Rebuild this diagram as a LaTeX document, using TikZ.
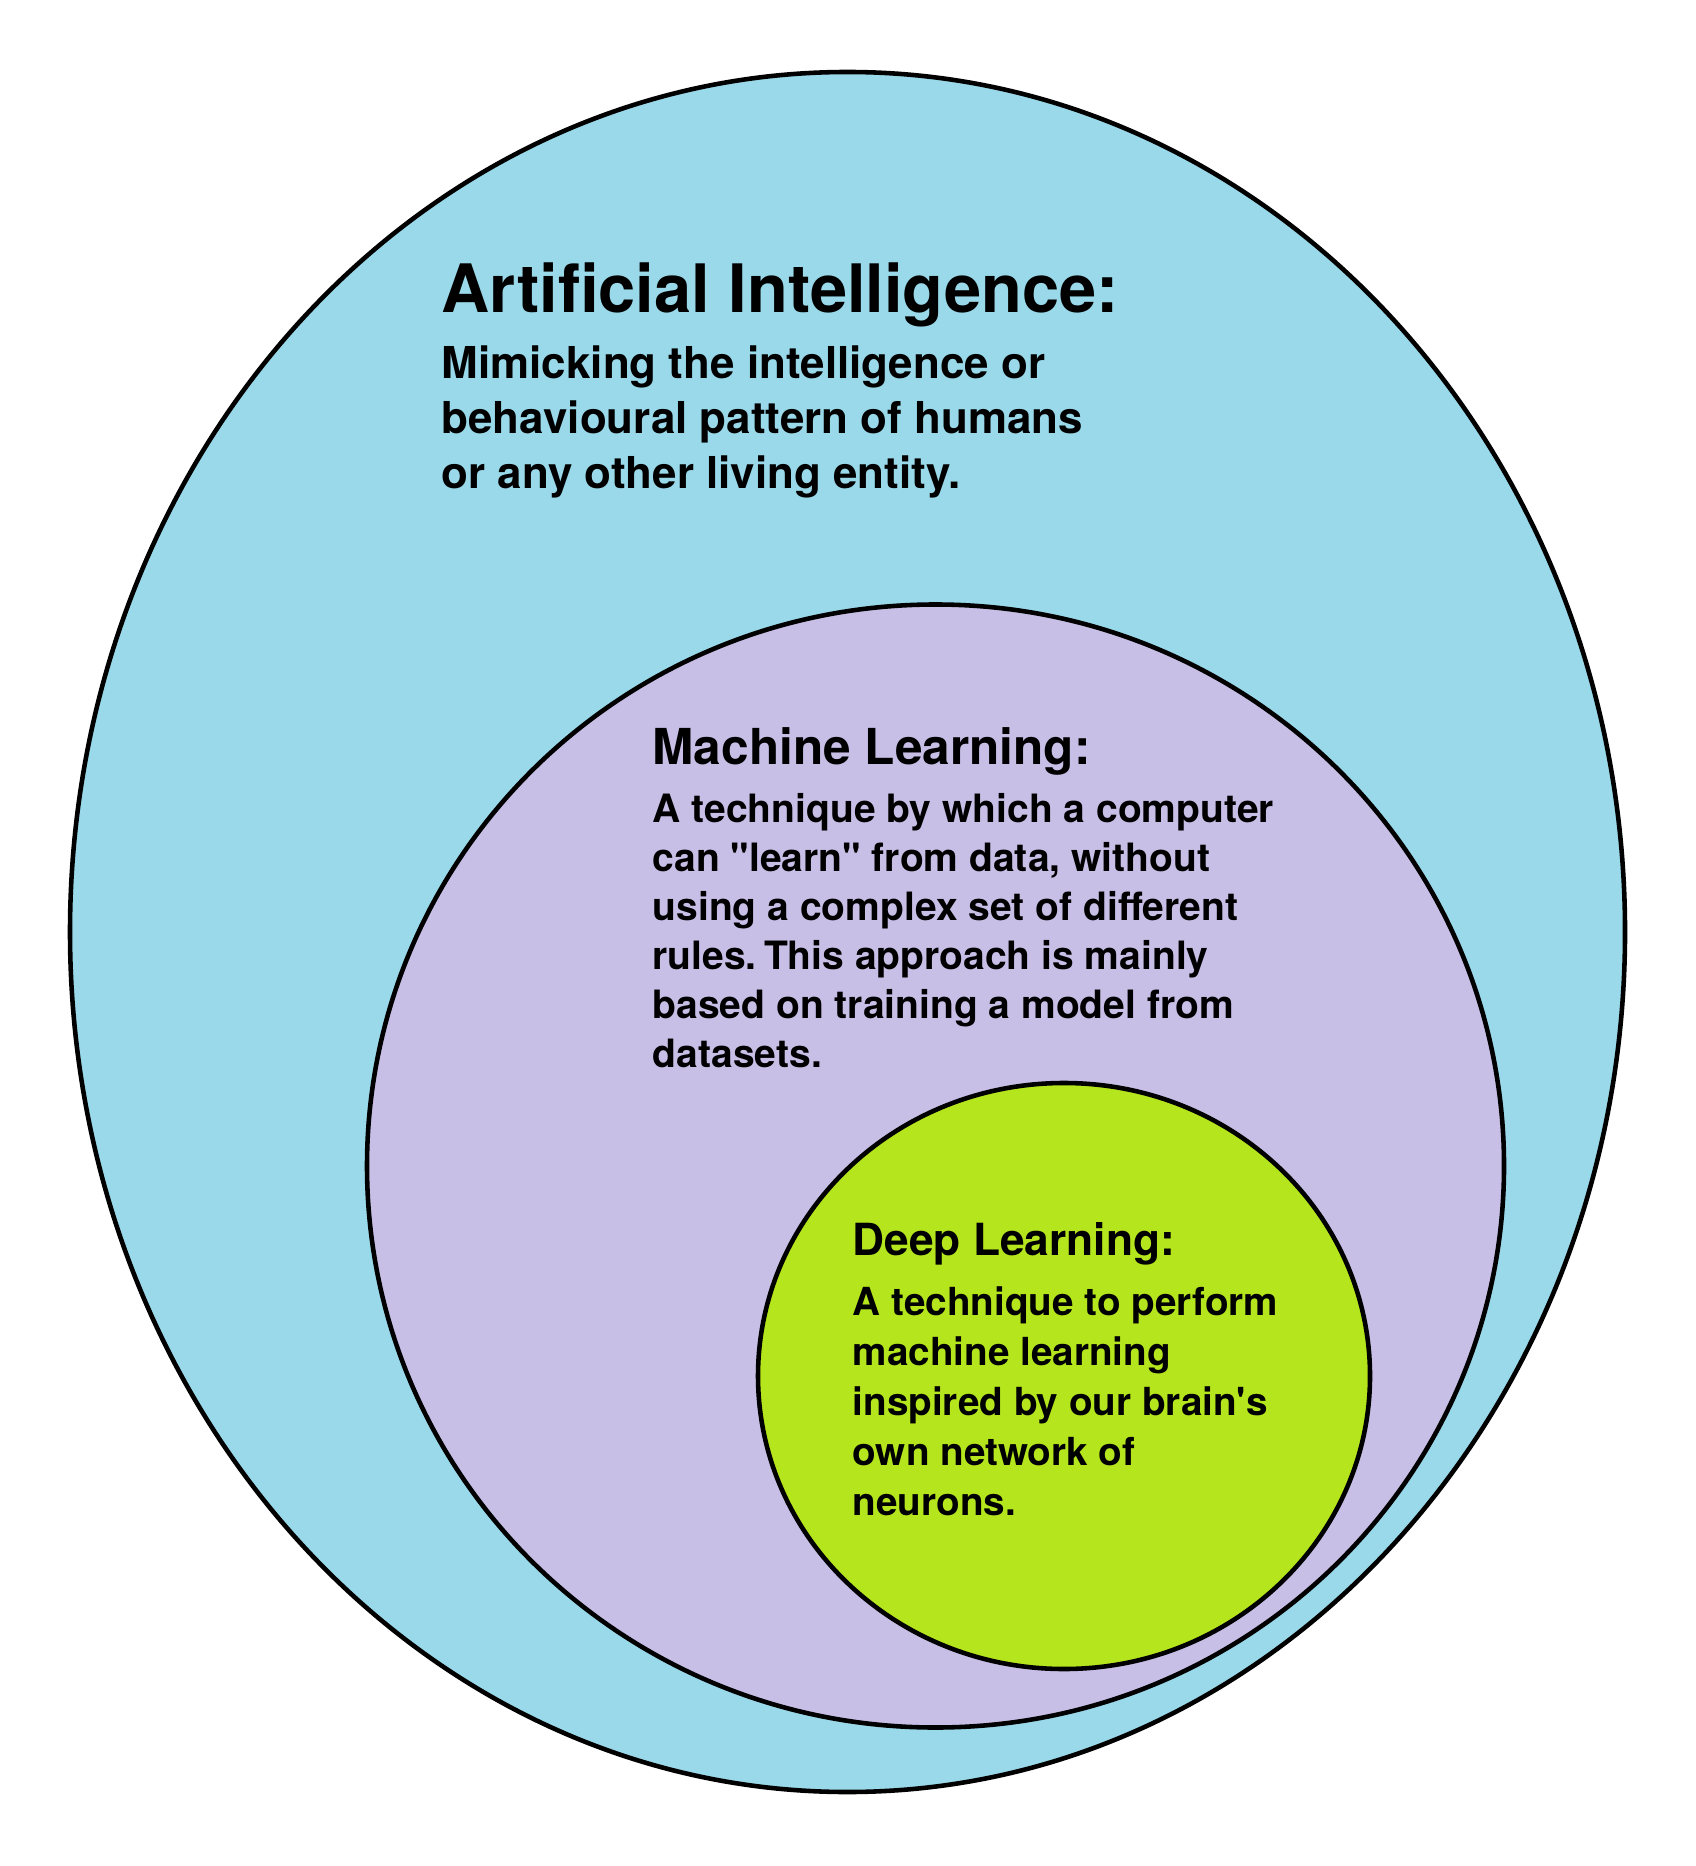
\documentclass[tikz,border=0pt]{standalone}
\usepackage{fontspec}
\setmainfont{TeX Gyre Heros}[Ligatures=TeXOff]
\usepackage{xcolor}
\usetikzlibrary{positioning}
\definecolor{aiblue}{RGB}{153,217,234}
\definecolor{mlpurple}{RGB}{200,191,231}
\definecolor{dlgreen}{RGB}{181,230,29}
\frenchspacing

\begin{document}
\begin{tikzpicture}[
    region/.style={draw=black, line width=1.3pt},
    heading/.style={anchor=base west, inner sep=0pt},
    blurb/.style={inner sep=0pt, align=left}
]
    \useasboundingbox (0,0) rectangle (16.95,-18.66);

    % Nested regions
    \filldraw[region, fill=aiblue] (8.475,-9.32) ellipse [x radius=7.775, y radius=8.60];
    \filldraw[region, fill=mlpurple] (9.355,-11.66) ellipse [x radius=5.685, y radius=5.615];
    \filldraw[region, fill=dlgreen] (10.64,-13.76) ellipse [x radius=3.06, y radius=2.93];

    % Artificial Intelligence
    \node[heading, font=\bfseries\fontsize{19}{23}\selectfont] (AItitle) at (4.41,-3.13) {Artificial Intelligence:};
    \node[blurb, font=\bfseries\fontsize{12.5}{15.6}\selectfont, below=0.32cm of AItitle.base west, anchor=north west] (AItext)
        {Mimicking the intelligence or\\behavioural pattern of humans\\or any other living entity.};

    % Machine Learning
    \node[heading, font=\bfseries\fontsize{14.1}{17}\selectfont] (MLtitle) at (6.52,-7.65) {Machine Learning:};
    \node[blurb, font=\bfseries\fontsize{11.1}{13.9}\selectfont, below=0.28cm of MLtitle.base west, anchor=north west] (MLtext)
        {A technique by which a computer\\can "learn" from data, without\\using a complex set of different\\rules.\kern-1pt{} This approach is mainly\\based on training a model from\\datasets.};

    % Deep Learning
    \node[heading, font=\bfseries\fontsize{12.6}{15}\selectfont] (DLtitle) at (8.52,-12.55) {Deep Learning:};
    \node[blurb, font=\bfseries\fontsize{11}{14.2}\selectfont, below=0.31cm of DLtitle.base west, anchor=north west] (DLtext)
        {A technique to perform\\machine learning\\inspired by our brain's\\own network of\\neurons.};
\end{tikzpicture}
\end{document}
